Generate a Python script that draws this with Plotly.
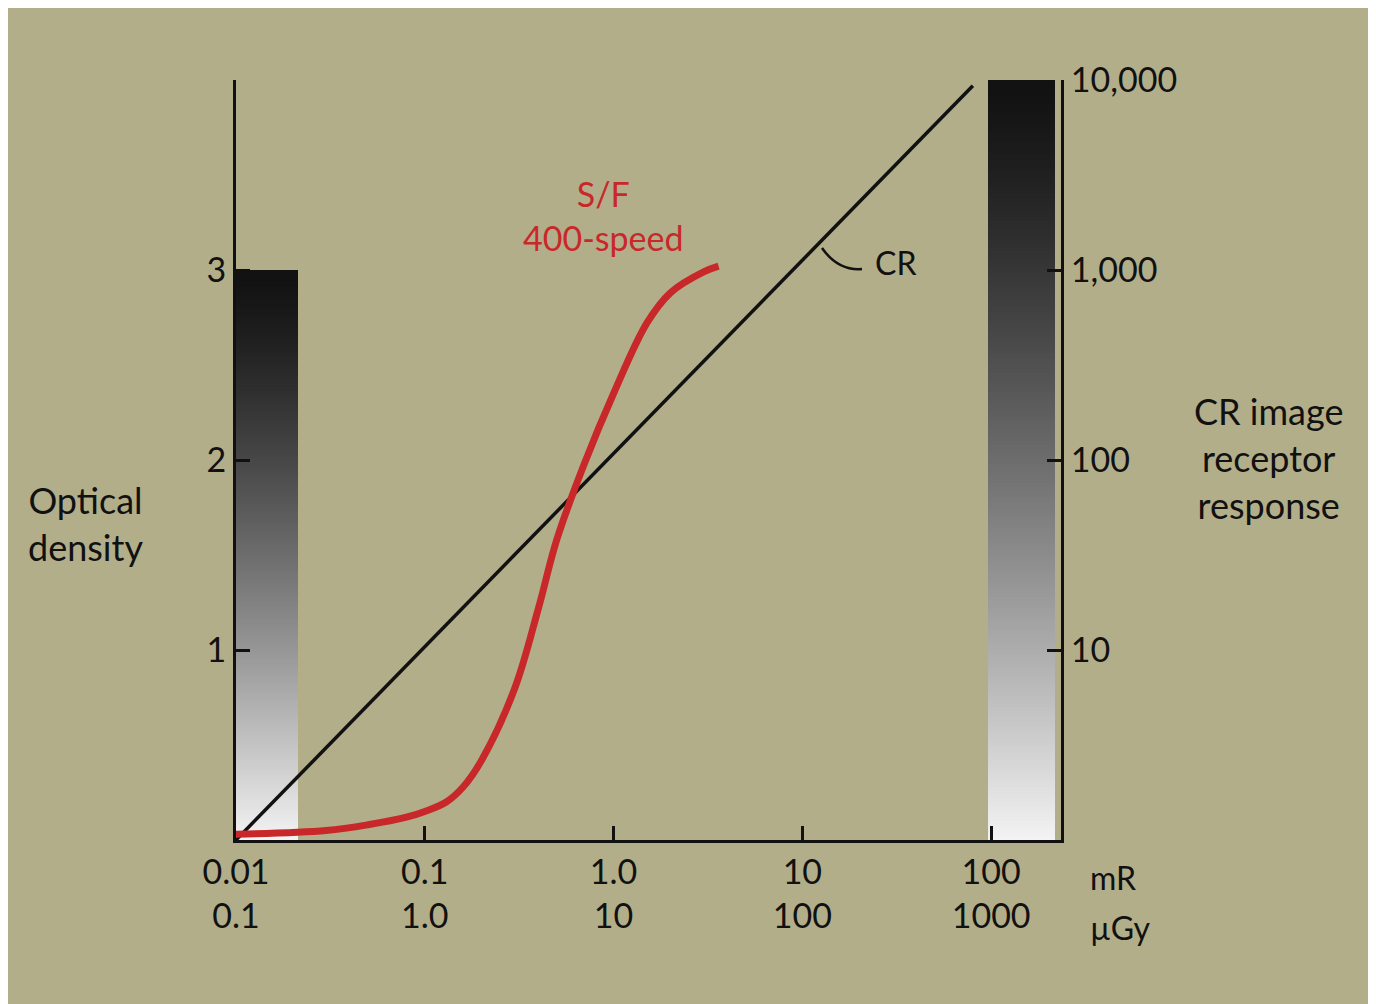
import plotly.graph_objects as go

# Data
exposure_mR_ticks = [0.01, 0.1, 1.0, 10, 100]
tick_text_x = ["0.01<br>0.1", "0.1<br>1.0", "1.0<br>10", "10<br>100", "100<br>1000"]
od_ticks = [1, 2, 3]
cr_ticks = [10, 100, 1000, 10000]
cr_tick_text = ["10", "100", "1,000", "10,000"]

cr_x = [0.01, 80]
cr_od = [0.0, 3.97]

sf_x = [0.01, 0.03, 0.05, 0.08, 0.1, 0.13, 0.16, 0.2, 0.3, 0.4, 0.5, 0.7, 1.0, 1.5, 2.0, 3.0, 3.6]
sf_od = [0.03, 0.05, 0.08, 0.12, 0.15, 0.2, 0.28, 0.42, 0.8, 1.22, 1.58, 1.98, 2.35, 2.72, 2.88, 2.99, 3.02]

BG = "#b3ae8a"
FONT = "Lato"
L, R, T, B = 228, 1053, 72, 832
def px(x): return (x - 8 - L) / (R - L)
def py(y): return (B - y + 5) / (B - T)

fig = go.Figure()
fig.add_trace(go.Scatter(x=cr_x, y=cr_od, mode="lines", line=dict(color="#111", width=3.5), showlegend=False))
fig.add_trace(go.Scatter(x=sf_x, y=sf_od, mode="lines", line=dict(color="#c8282a", width=7, shape="spline", smoothing=1.0), showlegend=False))
fig.add_trace(go.Scatter(x=[1], y=[10], yaxis="y2", mode="markers", marker=dict(opacity=0), showlegend=False, hoverinfo="skip"))

shapes = []
def bar(x0p, x1p, top, n=200):
    for i in range(n):
        y0 = top * i / n; y1 = top * (i + 1) / n + 0.01
        t = i / (n - 1)
        g = int(225 * (1 - t) ** 1.3 + 18)
        shapes.append(dict(type="rect", xref="paper", yref="y", x0=px(x0p), x1=px(x1p), y0=y0, y1=min(y1, top),
                           fillcolor=f"rgb({g},{g},{g})", line=dict(width=0), layer="below"))
bar(236, 298, 3)
bar(988, 1055, 4)
shapes.append(dict(type="path", xref="paper", yref="paper",
              path=f"M {px(822)},{py(245)} Q {px(838)},{py(268)} {px(862)},{py(266)}",
              line=dict(color="#111", width=2.5)))
fig.update_layout(shapes=shapes)

ann = [
    dict(x=85, y=520, text="Optical<br>density", font=dict(size=36, color="#111", family=FONT)),
    dict(x=1268, y=455, text="CR image<br>receptor<br>response", font=dict(size=36, color="#111", family=FONT)),
    dict(x=603, y=168, text="S/F<br>400-speed", font=dict(size=34, color="#c8282a", family=FONT)),
    dict(x=1088, y=896, text="mR", font=dict(size=32, color="#111", family=FONT), xanchor="left"),
    dict(x=1088, y=946, text="µGy", font=dict(size=32, color="#111", family=FONT), xanchor="left"),
    dict(x=895, y=238, text="CR", font=dict(size=32, color="#111", family=FONT)),
]
for a in ann:
    a.update(xref="paper", yref="paper")
    a.setdefault("xanchor", "center")
    a["x"] = px(a["x"]); a["y"] = py(a["y"])
    a["showarrow"] = False
fig.update_layout(annotations=ann)

ax_common = dict(showgrid=False, zeroline=False, showline=True, linecolor="#111", linewidth=3,
                 ticks="inside", ticklen=14, tickwidth=3, tickcolor="#111")
fig.update_layout(
    width=1376, height=1004, paper_bgcolor=BG, plot_bgcolor=BG,
    margin=dict(l=L, r=1376 - R, t=T, b=1004 - B),
    font=dict(family=FONT, size=34, color="#111"),
    xaxis=dict(type="log", range=[-2, 2.37], tickvals=exposure_mR_ticks, ticktext=tick_text_x, **ax_common),
    yaxis=dict(range=[0, 4], tickvals=od_ticks, **ax_common),
    yaxis2=dict(type="log", range=[0, 4], overlaying="y", side="right", tickvals=cr_ticks,
                ticktext=cr_tick_text, **ax_common),
)
fig.write_html("out.html")
